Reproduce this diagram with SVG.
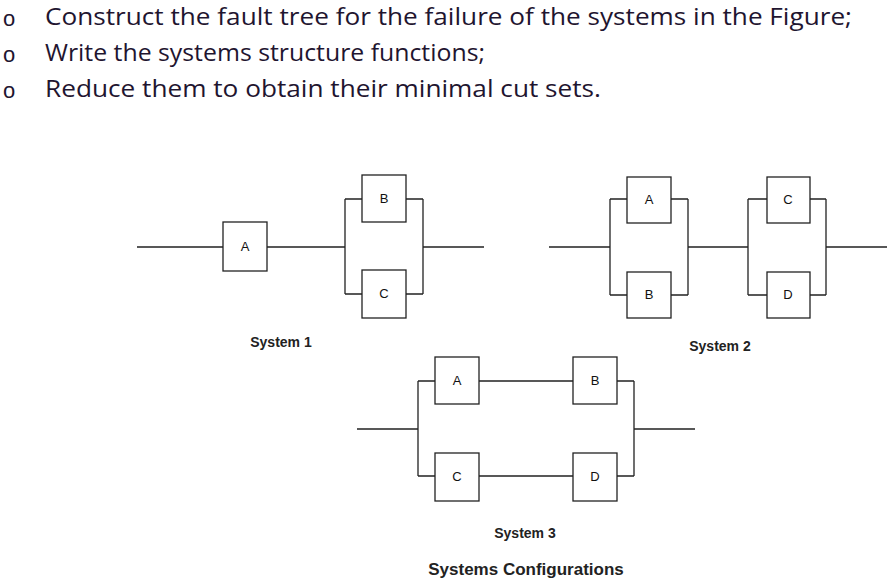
<svg xmlns="http://www.w3.org/2000/svg" width="892" height="584" viewBox="0 0 892 584">
<style>
.t{font-family:"Open Sans","Liberation Sans",sans-serif;font-size:24px;fill:#1f1530}
.o{font-family:"Liberation Sans",sans-serif;font-size:22px;fill:#1f1530}
.b{fill:#fff;stroke:#222;stroke-width:1.3}
.l{font-family:"Liberation Sans",Arial,sans-serif;font-size:13px;fill:#111;text-anchor:middle}
.s{font-family:"Liberation Sans",Arial,sans-serif;font-size:14px;font-weight:bold;fill:#222;text-anchor:middle}
#wires path{fill:none;stroke:#222;stroke-width:1.3}
</style>
<rect width="892" height="584" fill="#fff"/>
<g id="bullets">
<text class="o" x="3" y="26">o</text><text class="t" x="45" y="25" textLength="807" lengthAdjust="spacingAndGlyphs">Construct the fault tree for the failure of the systems in the Figure;</text>
<text class="o" x="3" y="62">o</text><text class="t" x="45" y="61" textLength="440" lengthAdjust="spacingAndGlyphs">Write the systems structure functions;</text>
<text class="o" x="3" y="98">o</text><text class="t" x="45" y="97" textLength="556" lengthAdjust="spacingAndGlyphs">Reduce them to obtain their minimal cut sets.</text>
</g>
<g id="wires">
<path d="M137 247H223M267 247H345M345 199V294M345 199H362M345 294H362M406 199H423M406 294H423M423 199V294M423 247H484"/>
<path d="M549 247H610M610 199V295M610 199H627M610 295H627M671 199H688M671 295H688M688 199V295M688 247H748M748 199V295M748 199H767M748 295H767M810 199H826M810 295H826M826 199V295M826 247H887"/>
<path d="M357 429H418M418 381V476M418 381H435M418 476H435M479 381H573M479 476H573M617 381H634M617 476H634M634 381V476M634 429H695"/>
</g>
<g id="s1A"><rect class="b" x="223" y="222" width="44" height="49"/><text class="l" x="245" y="251">A</text></g>
<g id="s1B"><rect class="b" x="362" y="175" width="44" height="47"/><text class="l" x="384" y="203">B</text></g>
<g id="s1C"><rect class="b" x="362" y="270" width="44" height="48"/><text class="l" x="384" y="298">C</text></g>
<g id="s2A"><rect class="b" x="627" y="177" width="44" height="46"/><text class="l" x="649" y="204">A</text></g>
<g id="s2B"><rect class="b" x="627" y="272" width="44" height="46"/><text class="l" x="649" y="299">B</text></g>
<g id="s2C"><rect class="b" x="767" y="177" width="43" height="46"/><text class="l" x="788" y="204">C</text></g>
<g id="s2D"><rect class="b" x="767" y="272" width="43" height="46"/><text class="l" x="788" y="299">D</text></g>
<g id="s3A"><rect class="b" x="435" y="357" width="44" height="47"/><text class="l" x="457" y="385">A</text></g>
<g id="s3B"><rect class="b" x="573" y="357" width="44" height="47"/><text class="l" x="595" y="385">B</text></g>
<g id="s3C"><rect class="b" x="435" y="453" width="44" height="48"/><text class="l" x="457" y="481">C</text></g>
<g id="s3D"><rect class="b" x="573" y="453" width="44" height="48"/><text class="l" x="595" y="481">D</text></g>
<g id="labels">
<text class="s" x="281" y="347">System 1</text>
<text class="s" x="720" y="351">System 2</text>
<text class="s" x="525" y="538">System 3</text>
<text class="s" x="526" y="575" style="font-size:17px">Systems Configurations</text>
</g>
</svg>
